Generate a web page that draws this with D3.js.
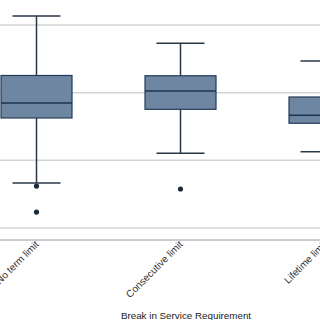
<!DOCTYPE html>
<html>
<head>
<meta charset="utf-8">
<script src="https://cdn.jsdelivr.net/npm/d3@7"></script>
<style>
    body { margin: 0; background: #fff; }
    text { font-family: 'Liberation Sans', Arial, sans-serif; }
</style>
</head>
<body>
<svg id="chart" width="320" height="320"></svg>
<script>
var categories = ['No term limit', 'Consecutive limit', 'Lifetime limit'];
var whiskerHigh = [15.67, 13.65, 12.34];
var q3 = [11.27, 11.25, 9.68];
var medians = [9.24, 10.12, 8.33];
var q1 = [8.13, 8.77, 7.74];
var whiskerLow = [3.33, 5.52, 5.64];
var outliers = [[3.1, 1.18], [2.88], []];
var yTicks = [0, 5, 10, 15];

var boxWidth = 71;
var capWidth = 48;

var svg = d3.select('#chart');

var x = d3.scalePoint().domain(categories).range([36.5, 324.5]);
var y = d3.scaleLinear().domain([0, 15]).range([228, 25]);

// gridlines
svg.append('g')
    .selectAll('line')
    .data(yTicks)
    .enter()
    .append('line')
    .attr('x1', 0)
    .attr('x2', 320)
    .attr('y1', d => y(d))
    .attr('y2', d => y(d))
    .attr('stroke', '#d4d4d4')
    .attr('stroke-width', 1.5);

// bottom axis line
svg.append('line')
    .attr('x1', 0)
    .attr('x2', 320)
    .attr('y1', 240)
    .attr('y2', 240)
    .attr('stroke', '#9a9a9a')
    .attr('stroke-width', 1);

var stats = categories.map(function(c, i) {
    return {
        key: c,
        hi: whiskerHigh[i],
        q3: q3[i],
        med: medians[i],
        q1: q1[i],
        lo: whiskerLow[i],
        out: outliers[i]
    };
});

var g = svg.append('g')
    .selectAll('g')
    .data(stats)
    .enter()
    .append('g');

// whisker stems
g.append('line')
    .attr('x1', d => x(d.key))
    .attr('x2', d => x(d.key))
    .attr('y1', d => y(d.hi))
    .attr('y2', d => y(d.lo))
    .attr('stroke', '#2a3747')
    .attr('stroke-width', 1.5);

// caps
['hi', 'lo'].forEach(function(k) {
    g.append('line')
        .attr('x1', d => x(d.key) - capWidth / 2)
        .attr('x2', d => x(d.key) + capWidth / 2)
        .attr('y1', d => y(d[k]))
        .attr('y2', d => y(d[k]))
        .attr('stroke', '#2a3747')
        .attr('stroke-width', 1.5);
});

// boxes
g.append('rect')
    .attr('x', d => x(d.key) - boxWidth / 2)
    .attr('width', boxWidth)
    .attr('y', d => y(d.q3))
    .attr('height', d => y(d.q1) - y(d.q3))
    .attr('fill', '#6f86a3')
    .attr('stroke', '#233a57')
    .attr('stroke-width', 1.2);

// medians
g.append('line')
    .attr('x1', d => x(d.key) - boxWidth / 2)
    .attr('x2', d => x(d.key) + boxWidth / 2)
    .attr('y1', d => y(d.med))
    .attr('y2', d => y(d.med))
    .attr('stroke', '#1d3550')
    .attr('stroke-width', 1.5);

// outliers
g.selectAll('circle')
    .data(d => d.out.map(v => ({ key: d.key, v: v })))
    .enter()
    .append('circle')
    .attr('cx', d => x(d.key))
    .attr('cy', d => y(d.v))
    .attr('r', 2.6)
    .attr('fill', '#1b2a3d');

// category labels
svg.append('g')
    .selectAll('text')
    .data(categories)
    .enter()
    .append('text')
    .attr('transform', d => 'translate(' + (x(d) + 3) + ',245) rotate(-45)')
    .attr('text-anchor', 'end')
    .attr('font-size', 10)
    .attr('fill', '#333')
    .text(d => d);

// axis title
svg.append('text')
    .attr('x', 186)
    .attr('y', 319)
    .attr('text-anchor', 'middle')
    .attr('font-size', 9.8)
    .attr('fill', '#222')
    .text('Break in Service Requirement');
</script>
</body>
</html>
